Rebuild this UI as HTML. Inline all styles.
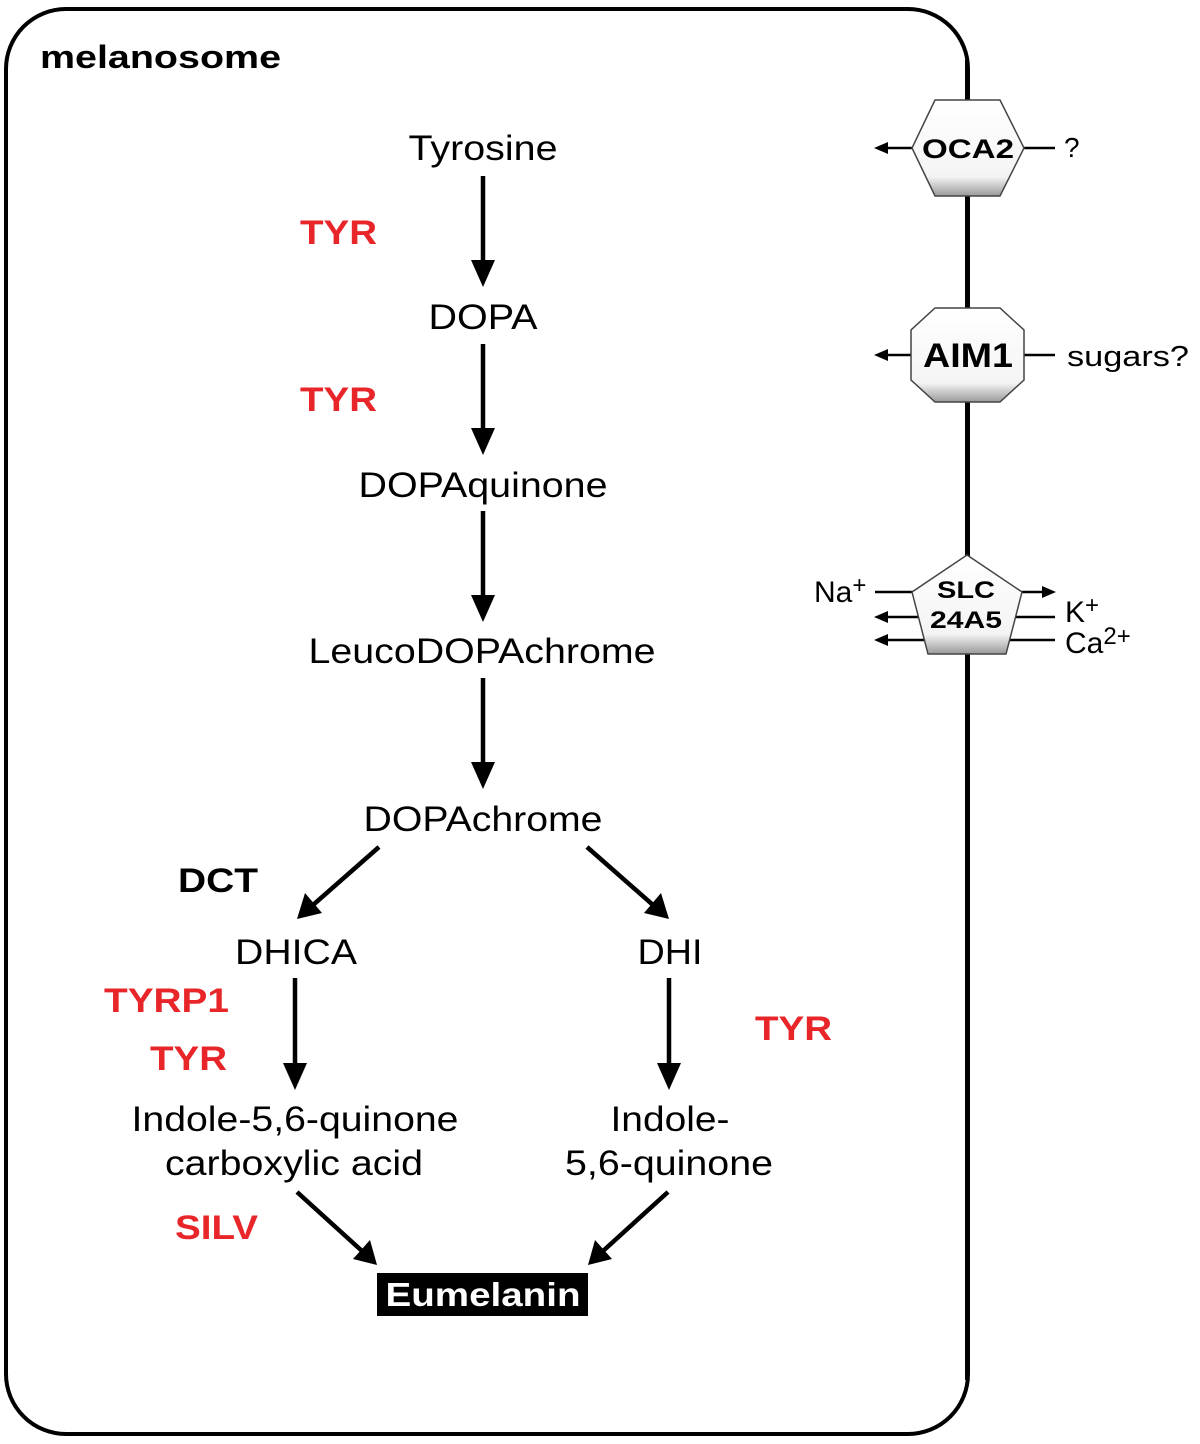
<!DOCTYPE html>
<html><head><meta charset="utf-8"><style>
html,body{margin:0;padding:0;background:#fff;}
svg{display:block;}
text{font-family:"Liberation Sans",Arial,sans-serif;}
</style></head><body>
<svg width="1200" height="1444" viewBox="0 0 1200 1444" xmlns="http://www.w3.org/2000/svg">
<defs>
<linearGradient id="g" x1="0" y1="0" x2="0" y2="1">
<stop offset="0" stop-color="#fff"/><stop offset="0.8" stop-color="#f4f4f4"/><stop offset="1" stop-color="#9a9a9a"/>
</linearGradient>
</defs>
<rect x="6" y="9" width="962" height="1425" rx="60" ry="60" fill="none" stroke="#000" stroke-width="4"/>
<text x="40" y="68" font-size="32" font-weight="bold" textLength="241" lengthAdjust="spacingAndGlyphs">melanosome</text>

<g font-size="35" text-anchor="middle" fill="#000">
<text x="483" y="160" textLength="149" lengthAdjust="spacingAndGlyphs">Tyrosine</text>
<text x="483" y="329" textLength="109" lengthAdjust="spacingAndGlyphs">DOPA</text>
<text x="483" y="497" textLength="249" lengthAdjust="spacingAndGlyphs">DOPAquinone</text>
<text x="482" y="663" textLength="347" lengthAdjust="spacingAndGlyphs">LeucoDOPAchrome</text>
<text x="483" y="831" textLength="239" lengthAdjust="spacingAndGlyphs">DOPAchrome</text>
<text x="296" y="964" textLength="122" lengthAdjust="spacingAndGlyphs">DHICA</text>
<text x="670" y="964" textLength="65" lengthAdjust="spacingAndGlyphs">DHI</text>
<text x="295" y="1131" textLength="327" lengthAdjust="spacingAndGlyphs">Indole-5,6-quinone</text>
<text x="294" y="1175" textLength="258" lengthAdjust="spacingAndGlyphs">carboxylic acid</text>
<text x="670" y="1131" textLength="119" lengthAdjust="spacingAndGlyphs">Indole-</text>
<text x="669" y="1175" textLength="208" lengthAdjust="spacingAndGlyphs">5,6-quinone</text>
</g>

<g font-size="34" font-weight="bold" fill="#e8262a">
<text x="300" y="244" textLength="77" lengthAdjust="spacingAndGlyphs">TYR</text>
<text x="300" y="411" textLength="77" lengthAdjust="spacingAndGlyphs">TYR</text>
<text x="104" y="1012" textLength="125" lengthAdjust="spacingAndGlyphs">TYRP1</text>
<text x="150" y="1070" textLength="77" lengthAdjust="spacingAndGlyphs">TYR</text>
<text x="755" y="1040" textLength="77" lengthAdjust="spacingAndGlyphs">TYR</text>
<text x="175" y="1239" textLength="83" lengthAdjust="spacingAndGlyphs">SILV</text>
</g>
<text x="178" y="892" font-size="34" font-weight="bold" textLength="80" lengthAdjust="spacingAndGlyphs">DCT</text>

<rect x="377" y="1273" width="211" height="43" fill="#000"/>
<text x="483" y="1306" font-size="33" font-weight="bold" fill="#fff" text-anchor="middle" textLength="195" lengthAdjust="spacingAndGlyphs">Eumelanin</text>

<g stroke="#000" stroke-width="4.5" fill="none">
<line x1="483" y1="176" x2="483" y2="262"/>
<line x1="483" y1="344" x2="483" y2="430"/>
<line x1="483" y1="511" x2="483" y2="597"/>
<line x1="483" y1="678" x2="483" y2="764"/>
<line x1="295" y1="978" x2="295" y2="1065"/>
<line x1="669" y1="978" x2="669" y2="1065"/>
<line x1="379" y1="847" x2="313" y2="905"/>
<line x1="587" y1="847" x2="653" y2="905"/>
<line x1="297" y1="1192" x2="362" y2="1251"/>
<line x1="668" y1="1192" x2="603" y2="1251"/>
</g>
<g fill="#000">
<polygon points="471,260 495,260 483,287"/>
<polygon points="471,428 495,428 483,455"/>
<polygon points="471,595 495,595 483,622"/>
<polygon points="471,762 495,762 483,789"/>
<polygon points="283,1063 307,1063 295,1090"/>
<polygon points="657,1063 681,1063 669,1090"/>
<polygon points="297,919 305,893 322,913"/>
<polygon points="669,919 644,913 661,893"/>
<polygon points="377,1265 353,1259 370,1240"/>
<polygon points="588,1265 595,1240 612,1259"/>
</g>

<line x1="967" y1="60" x2="967" y2="1380" stroke="#000" stroke-width="4"/>

<!-- OCA2 -->
<line x1="885" y1="148" x2="912" y2="148" stroke="#000" stroke-width="2.5"/>
<polygon points="874,148 888,142 888,154" fill="#000"/>
<line x1="1024" y1="148" x2="1055" y2="148" stroke="#000" stroke-width="2.5"/>
<polygon points="935,100 1000,100 1024,148 1000,196 935,196 912,148" fill="url(#g)" stroke="#444" stroke-width="1.5"/>
<text x="968" y="158" font-size="27" font-weight="bold" text-anchor="middle" textLength="92" lengthAdjust="spacingAndGlyphs">OCA2</text>
<text x="1064" y="157" font-size="28">?</text>

<!-- AIM1 -->
<line x1="885" y1="355" x2="911" y2="355" stroke="#000" stroke-width="2.5"/>
<polygon points="874,355 888,349 888,361" fill="#000"/>
<line x1="1024" y1="355" x2="1055" y2="355" stroke="#000" stroke-width="2.5"/>
<polygon points="935,308 1000,308 1024,330 1024,380 1000,402 935,402 911,380 911,330" fill="url(#g)" stroke="#444" stroke-width="1.5"/>
<text x="968" y="367" font-size="34" font-weight="bold" text-anchor="middle" textLength="90" lengthAdjust="spacingAndGlyphs">AIM1</text>
<text x="1067" y="366" font-size="29" textLength="122" lengthAdjust="spacingAndGlyphs">sugars?</text>

<!-- SLC24A5 -->
<g stroke="#000" stroke-width="2.5">
<line x1="875" y1="592" x2="913" y2="592"/>
<line x1="1021" y1="592" x2="1044" y2="592"/>
<line x1="885" y1="617" x2="919" y2="617"/>
<line x1="1015" y1="617" x2="1055" y2="617"/>
<line x1="885" y1="640" x2="925" y2="640"/>
<line x1="1009" y1="640" x2="1055" y2="640"/>
</g>
<polygon points="1056,592 1042,586 1042,598" fill="#000"/>
<polygon points="874,617 888,611 888,623" fill="#000"/>
<polygon points="874,640 888,634 888,646" fill="#000"/>
<polygon points="967,555 1022,592 1006,654 928,654 912,592" fill="url(#g)" stroke="#444" stroke-width="1.5"/>
<text x="966" y="598" font-size="24" font-weight="bold" text-anchor="middle" textLength="58" lengthAdjust="spacingAndGlyphs">SLC</text>
<text x="966" y="628" font-size="24" font-weight="bold" text-anchor="middle" textLength="72" lengthAdjust="spacingAndGlyphs">24A5</text>
<text x="814" y="602" font-size="30">Na<tspan font-size="24" dy="-9">+</tspan></text>
<text x="1065" y="622" font-size="30">K<tspan font-size="24" dy="-9">+</tspan></text>
<text x="1065" y="653" font-size="30">Ca<tspan font-size="24" dy="-9">2+</tspan></text>
</svg>
</body></html>
